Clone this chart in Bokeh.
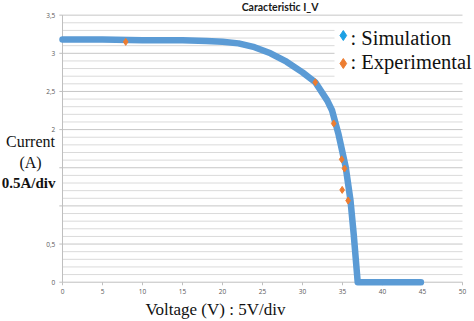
from bokeh.plotting import figure
from bokeh.models import Range1d
from bokeh.core.properties import value
from bokeh.embed import file_html
from bokeh.resources import INLINE

# Data
sim_v = [0, 5, 10, 15, 18, 20, 22, 24, 26, 28, 30, 31.6, 33.1, 33.7, 34.5, 35.4, 36.0, 36.4, 36.9, 40, 44.8]
sim_i = [3.18, 3.18, 3.17, 3.17, 3.16, 3.15, 3.13, 3.08, 3.00, 2.89, 2.75, 2.62, 2.38, 2.25, 1.94, 1.51, 1.07, 0.63, 0.0, 0.0, 0.0]
exp_v = [7.9, 31.6, 33.9, 34.9, 35.25, 34.96, 35.7]
exp_i = [3.15, 2.62, 2.08, 1.61, 1.49, 1.21, 1.07]
y_ticks = [0, 0.5, 1, 1.5, 2, 2.5, 3, 3.5]
y_tick_labels = ["0", "0,5", "", "", "2", "2,5", "3", "3,5"]
x_ticks = [0, 5, 10, 15, 20, 25, 30, 35, 40, 45, 50]
x_tick_labels = ["0", "5", "10", "15", "20", "25", "30", "35", "40", "45", "50"]
y_minor = [round(0.1 * k, 1) for k in range(1, 36) if k % 5 != 0]
legend_labels = [": Simulation", ": Experimental"]
legend_colors = ["#1ca0e4", "#ed7d31"]

X_MIN, X_MAX = 0, 50
Y_MIN, Y_MAX = 0, 3.5

# the frame covers the whole canvas; data area sits at the same place as in the picture
p = figure(width=474, height=321, output_backend="svg", toolbar_location=None,
           x_range=Range1d(-7.75, 51.5), y_range=Range1d(-0.515, 3.692),
           x_axis_location=None, y_axis_location=None, min_border=0)
p.outline_line_color = None
p.background_fill_color = "white"
p.border_fill_color = "white"
p.grid.visible = False

# grid lines
n = len(y_minor)
p.segment(x0=[X_MIN] * n, x1=[X_MAX] * n, y0=y_minor, y1=y_minor, line_color="#dadada", line_width=1)
maj = y_ticks[1:]
p.segment(x0=[X_MIN] * len(maj), x1=[X_MAX] * len(maj), y0=maj, y1=maj, line_color="#c6c6c6", line_width=1)

# axes lines and ticks
p.segment(x0=[X_MIN, X_MIN], x1=[X_MAX, X_MIN], y0=[Y_MIN, Y_MIN], y1=[Y_MIN, Y_MAX], line_color="#bfbfbf", line_width=1)
p.segment(x0=x_ticks, x1=x_ticks, y0=[0] * len(x_ticks), y1=[-0.04] * len(x_ticks), line_color="#bfbfbf")
p.segment(x0=[0] * len(y_ticks), x1=[-0.4] * len(y_ticks), y0=y_ticks, y1=y_ticks, line_color="#bfbfbf")

tick_font = value("Open Sans")
p.text(x=x_ticks, y=[-0.122] * len(x_ticks), text=x_tick_labels, text_font=tick_font,
       text_font_size="6.5px", text_color="#595959", text_align="center", text_baseline="middle")
p.text(x=[-0.9] * len(y_ticks), y=y_ticks, text=y_tick_labels, text_font=tick_font,
       text_font_size="6.5px", text_color="#595959", text_align="right", text_baseline="middle")

# legend background
p.quad(left=[34.0], right=[52], bottom=[2.68], top=[3.35], fill_color="white", line_color=None)

# simulation curve
p.line(sim_v, sim_i, line_color="#5b9bd5", line_width=6.5, line_cap="round", line_join="round")
# experimental points
p.scatter(exp_v, exp_i, marker="diamond", size=7, fill_color="#ed7d31", line_color="#ed7d31")

serif = value("Liberation Serif")
# custom legend
p.scatter([35.1, 35.1], [3.233, 2.866], marker="diamond", size=10, fill_color=legend_colors, line_color=legend_colors)
p.text(x=[36.0, 36.0], y=[3.207, 2.88], text=legend_labels, text_font=serif,
       text_font_size="20.5px", text_baseline="middle", text_color="#111111")

# title
p.text(x=[27.2], y=[3.613], text=["Caracteristic I_V"], text_font=value("Lato"), text_font_size="10.5px",
       text_font_style="bold", text_align="center", text_baseline="middle", text_color="#1a1a1a")

# axis labels (overlaid text)
p.text(x=[10.375], y=[-0.36], text=["Voltage  (V) : 5V/div"], text_font=serif, text_font_size="17px",
       text_baseline="middle", text_color="#111111")
p.text(x=[-4.0, -4.0], y=[1.844, 1.569], text=["Current", "(A)"], text_font=serif, text_font_size="16px",
       text_align="center", text_baseline="middle", text_color="#111111")
p.text(x=[-0.875], y=[1.294], text=["0.5A/div"], text_font=serif, text_font_size="15px",
       text_font_style="bold", text_align="right", text_baseline="middle", text_color="#111111")

open("out.html", "w").write(file_html(p, INLINE))
